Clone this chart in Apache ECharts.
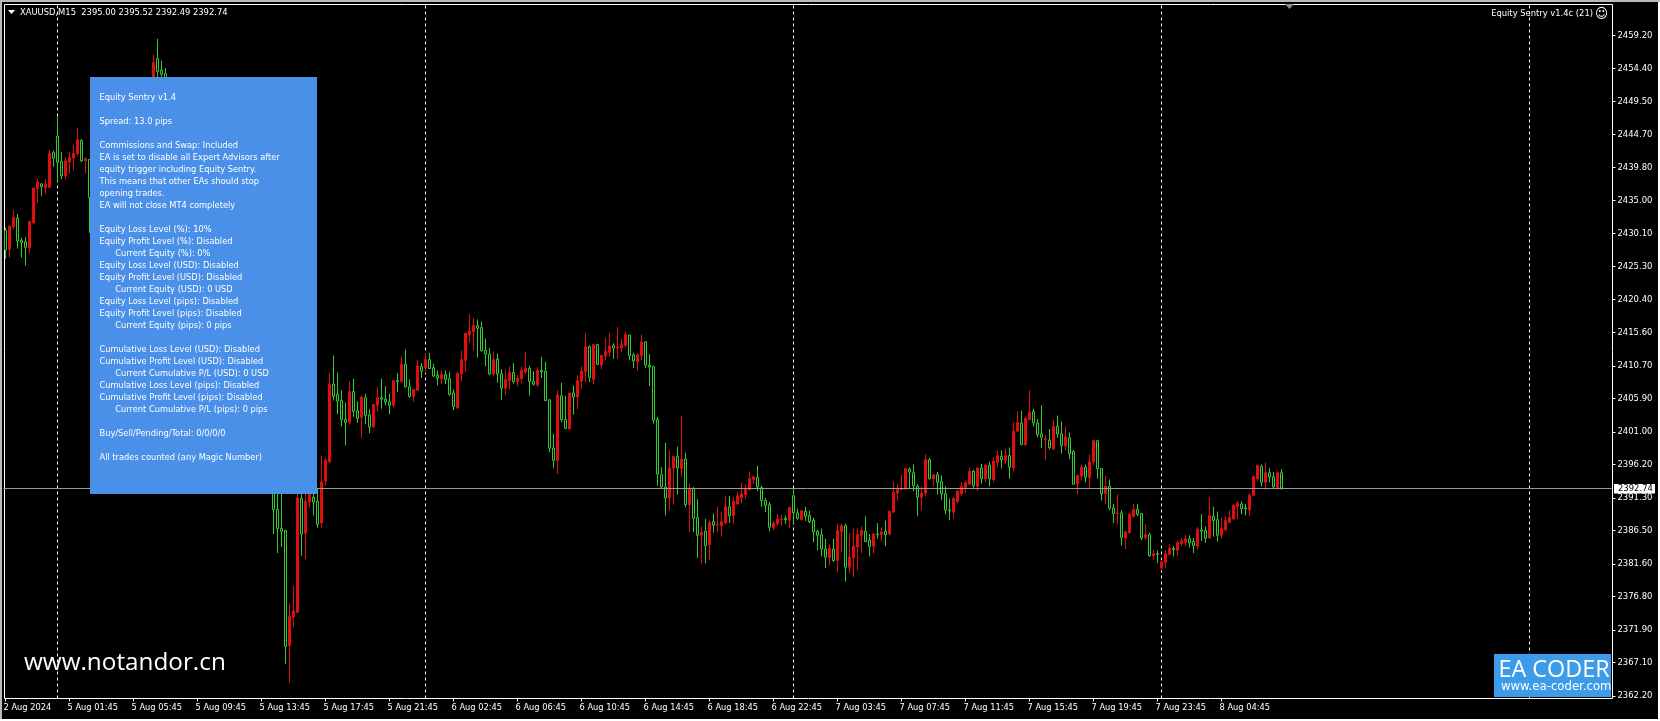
<!DOCTYPE html>
<html><head><meta charset="utf-8">
<script src="https://cdn.jsdelivr.net/npm/echarts@6/dist/echarts.min.js"></script>
<style>html,body{margin:0;padding:0;background:#fff}#c{width:1660px;height:721px}</style></head>
<body><div id="c"></div>
<script>
const opens=[2430.6,2427.8,2431.1,2432.4,2429.1,2428.9,2428.0,2431.7,2436.7,2437.4,
2436.8,2436.9,2442.0,2444.4,2440.7,2438.6,2440.6,2441.2,2441.8,2443.8,
2440.8,2441.0,2435.4,2436.9,2438.1,2437.3,2439.6,2441.0,2440.2,2442.7,
2444.1,2443.4,2445.8,2447.1,2446.2,2448.6,2450.3,2451.2,2455.8,2454.1,
2453.6,2451.0,2449.2,2447.6,2448.3,2445.7,2443.1,2444.0,2441.2,2438.3,
2435.9,2436.8,2433.2,2430.1,2426.7,2427.9,2423.4,2419.8,2416.2,2417.5,
2412.8,2408.9,2404.5,2405.8,2401.6,2397.9,2398.8,2395.2,2389.6,2386.8,
2386.5,2369.6,2373.8,2374.5,2391.2,2386.1,2390.7,2391.4,2390.8,2387.6,
2393.8,2396.6,2408.0,2406.5,2405.6,2402.8,2402.4,2406.9,2404.1,2403.1,
2406.0,2403.5,2401.7,2404.9,2406.0,2405.8,2405.4,2404.9,2408.5,2408.4,
2410.9,2407.6,2406.2,2407.1,2410.6,2410.4,2411.6,2410.4,2409.3,2408.8,
2409.4,2408.8,2406.7,2404.5,2409.5,2411.5,2415.2,2415.7,2416.6,2416.3,
2413.0,2412.4,2409.5,2411.7,2409.5,2407.4,2408.5,2409.7,2408.4,2408.8,
2409.8,2410.3,2408.4,2407.9,2410.0,2409.9,2405.7,2398.6,2396.8,2406.3,
2402.8,2401.4,2406.7,2406.1,2408.4,2409.8,2413.5,2408.7,2413.8,2410.8,
2412.1,2412.7,2413.7,2413.3,2413.3,2413.7,2415.2,2412.3,2411.3,2412.2,
2414.2,2410.8,2410.6,2402.8,2394.7,2392.9,2391.3,2395.7,2397.4,2395.6,
2397.0,2390.3,2392.7,2388.4,2385.8,2386.4,2384.4,2387.8,2387.3,2387.2,
2387.6,2390.0,2388.7,2390.4,2391.3,2391.8,2392.5,2394.0,2394.3,2392.8,
2390.9,2390.3,2386.9,2387.5,2388.1,2388.3,2388.0,2391.6,2389.1,2388.1,
2389.3,2388.7,2388.0,2386.4,2385.9,2383.8,2382.5,2383.8,2382.1,2386.3,
2387.2,2381.1,2382.5,2384.1,2385.8,2386.4,2385.1,2384.2,2386.0,2385.9,
2386.4,2386.0,2389.2,2392.0,2392.5,2392.6,2395.5,2395.0,2393.0,2391.4,
2392.0,2396.9,2394.1,2394.7,2393.7,2391.9,2389.5,2389.2,2390.8,2391.9,
2392.8,2393.3,2395.2,2393.0,2395.7,2394.1,2396.1,2394.0,2396.5,2397.4,
2396.8,2397.5,2395.7,2401.1,2402.3,2399.1,2402.8,2404.0,2402.3,2400.7,
2399.9,2399.8,2398.5,2401.8,2400.7,2398.9,2400.1,2398.1,2393.4,2394.5,
2395.8,2394.3,2396.6,2399.7,2395.6,2391.9,2393.0,2389.8,2389.0,2389.1,
2385.4,2386.2,2388.6,2389.6,2389.0,2385.5,2385.9,2382.8,2383.1,2381.0,
2381.8,2383.0,2383.9,2383.6,2384.6,2384.8,2385.3,2384.9,2384.2,2386.6,
2386.5,2385.4,2388.6,2388.1,2385.8,2386.6,2387.7,2388.2,2390.0,2390.4,
2389.8,2389.5,2391.7,2394.1,2395.9,2393.6,2395.0,2394.4,2392.8,2395.00];
const closes=[2427.7,2431.2,2432.5,2429.0,2428.8,2428.1,2431.9,2436.8,2437.7,2437.0,
2437.3,2441.9,2441.2,2440.6,2438.6,2440.8,2441.3,2441.9,2443.9,2440.8,
2441.1,2435.4,2436.9,2438.1,2437.3,2439.6,2441.0,2440.2,2442.7,2444.1,
2443.4,2445.8,2447.1,2446.2,2448.6,2450.3,2451.2,2455.2,2453.9,2453.5,
2451.0,2449.2,2447.6,2448.3,2445.7,2443.1,2444.0,2441.2,2438.3,2435.9,
2436.8,2433.2,2430.1,2426.7,2427.9,2423.4,2419.8,2416.2,2417.5,2412.8,
2408.9,2404.5,2405.8,2401.6,2397.9,2398.8,2395.2,2389.6,2386.8,2386.4,
2369.5,2373.9,2374.7,2391.3,2386.0,2390.8,2392.0,2390.7,2387.4,2393.6,
2396.8,2408.0,2406.2,2405.5,2402.8,2402.4,2406.9,2404.0,2403.0,2406.1,
2403.4,2401.7,2405.0,2406.0,2405.8,2405.4,2404.9,2408.5,2408.4,2410.9,
2407.6,2406.2,2407.2,2410.7,2409.9,2411.6,2410.3,2409.2,2408.9,2409.4,
2408.7,2406.5,2404.7,2409.6,2411.6,2415.5,2415.8,2416.6,2416.2,2412.9,
2412.4,2409.5,2411.6,2409.5,2407.4,2408.7,2409.7,2408.4,2408.9,2410.0,
2410.3,2408.4,2408.0,2410.0,2409.8,2405.6,2398.6,2396.8,2406.4,2402.8,
2401.5,2406.7,2406.1,2408.5,2409.9,2413.5,2409.0,2413.8,2410.9,2412.2,
2412.8,2413.6,2413.3,2413.5,2413.8,2415.3,2412.2,2411.4,2412.3,2414.2,
2410.8,2410.5,2402.7,2394.8,2392.9,2391.3,2395.7,2397.4,2395.7,2397.0,
2390.3,2392.6,2388.3,2385.8,2386.2,2384.3,2387.7,2387.3,2387.4,2387.8,
2390.0,2388.7,2390.8,2391.6,2391.9,2392.6,2394.1,2394.4,2392.9,2390.9,
2390.2,2387.0,2387.6,2388.2,2388.2,2388.1,2389.9,2389.1,2388.3,2389.4,
2388.6,2387.8,2386.3,2385.8,2383.8,2382.6,2383.9,2382.1,2386.5,2387.2,
2381.1,2382.6,2384.2,2385.9,2386.5,2384.9,2384.2,2386.0,2385.9,2386.3,
2385.9,2389.3,2392.1,2392.5,2392.7,2395.6,2395.1,2393.1,2391.4,2392.0,
2396.9,2394.1,2394.7,2393.6,2391.9,2389.5,2389.4,2391.2,2392.3,2393.0,
2393.5,2395.2,2393.1,2395.7,2394.1,2396.1,2394.1,2396.7,2397.5,2396.9,
2397.5,2395.8,2401.1,2402.4,2399.1,2403.0,2403.9,2402.3,2400.6,2400.2,
2400.0,2398.7,2401.8,2400.7,2399.0,2400.3,2397.8,2393.3,2394.6,2395.8,
2394.3,2396.6,2399.7,2395.6,2391.9,2393.0,2389.8,2389.0,2389.1,2385.5,
2386.3,2388.9,2389.6,2388.9,2385.4,2385.9,2382.8,2383.1,2383.0,2381.9,
2383.1,2383.9,2383.7,2384.7,2385.0,2385.3,2384.7,2384.3,2386.7,2386.4,
2385.4,2388.7,2388.0,2385.8,2386.8,2388.0,2388.4,2390.2,2390.5,2389.7,
2389.7,2391.7,2394.4,2396.1,2393.6,2395.0,2394.4,2392.9,2395.0,2392.74];
const lows=[2426.4,2426.6,2430.8,2427.9,2426.6,2425.4,2427.2,2431.5,2434.6,2435.6,
2435.9,2436.8,2439.9,2437.7,2438.1,2438.1,2438.9,2439.4,2441.6,2440.6,
2438.9,2430.2,2434.8,2436.2,2436.9,2437.0,2439.1,2439.7,2439.9,2442.2,
2442.8,2443.0,2445.3,2445.8,2445.9,2448.1,2449.9,2450.6,2452.6,2452.5,
2450.5,2448.7,2447.1,2446.9,2445.2,2442.6,2442.4,2440.6,2437.7,2435.1,
2435.2,2432.6,2429.3,2426.0,2425.8,2422.7,2419.0,2415.3,2415.4,2412.1,
2408.0,2403.7,2403.9,2400.8,2397.0,2396.9,2394.6,2386.0,2383.2,2384.1,
2366.9,2364.2,2372.3,2374.5,2382.8,2382.3,2389.9,2388.7,2386.9,2386.95,
2393.1,2396.4,2405.6,2403.6,2401.8,2399.0,2402.1,2403.2,2402.3,2400.1,
2402.1,2400.8,2401.6,2404.0,2404.4,2404.9,2403.6,2404.6,2406.8,2408.2,
2407.5,2406.0,2405.4,2407.1,2408.9,2409.6,2410.2,2409.0,2407.8,2408.0,
2408.0,2406.3,2404.2,2404.4,2408.4,2409.8,2414.1,2413.0,2411.9,2412.8,
2410.6,2409.3,2409.2,2408.2,2405.7,2406.4,2407.2,2408.1,2407.7,2408.2,
2409.5,2406.3,2407.8,2407.6,2408.9,2405.5,2398.0,2395.7,2394.8,2402.4,
2401.4,2401.4,2403.5,2404.3,2407.3,2408.3,2408.3,2408.0,2410.8,2410.2,
2411.5,2412.0,2411.7,2411.7,2412.7,2413.4,2411.5,2410.4,2410.0,2411.5,
2410.4,2407.7,2402.2,2393.1,2392.6,2388.7,2389.5,2390.3,2391.8,2394.4,
2389.9,2386.3,2386.3,2382.5,2381.7,2381.7,2382.2,2386.2,2386.3,2385.6,
2387.5,2387.6,2387.5,2390.3,2390.5,2391.2,2392.4,2393.4,2392.3,2390.0,
2389.2,2386.4,2386.5,2387.2,2387.2,2387.5,2386.9,2387.5,2388.1,2388.0,
2387.9,2387.6,2384.8,2383.6,2382.7,2381.0,2381.4,2381.9,2380.4,2383.3,
2379.0,2380.2,2379.7,2380.7,2383.2,2384.8,2382.7,2383.1,2385.3,2385.0,
2384.2,2385.8,2389.2,2390.9,2392.5,2392.5,2392.6,2392.3,2388.6,2389.5,
2391.6,2394.0,2393.0,2391.8,2391.0,2388.9,2388.0,2388.3,2390.5,2391.6,
2392.0,2393.3,2392.6,2392.3,2393.4,2393.6,2393.0,2393.6,2395.8,2395.6,
2396.3,2394.1,2395.2,2401.0,2399.1,2398.9,2402.7,2401.8,2400.2,2398.6,
2396.9,2398.4,2398.3,2400.1,2397.8,2398.3,2397.0,2393.2,2391.8,2393.8,
2393.6,2392.7,2396.1,2394.1,2390.9,2390.4,2389.5,2387.6,2387.4,2384.3,
2383.8,2386.0,2388.4,2388.6,2385.1,2385.1,2382.7,2382.2,2381.7,2380.6,
2381.0,2382.9,2382.7,2382.7,2384.2,2384.2,2384.0,2383.2,2383.8,2385.0,
2384.7,2385.3,2385.6,2384.9,2385.3,2386.4,2387.6,2388.1,2388.2,2388.9,
2388.7,2388.6,2391.5,2393.8,2393.0,2392.5,2393.6,2392.6,2392.6,2392.49];
const highs=[2431.0,2431.3,2433.6,2433.0,2429.5,2429.6,2431.9,2436.8,2438.2,2437.5,
2438.1,2442.3,2442.3,2447.3,2442.1,2441.3,2442.1,2443.1,2445.6,2444.0,
2441.3,2441.0,2437.3,2438.9,2438.8,2440.2,2441.7,2441.5,2443.3,2444.8,
2444.6,2446.3,2447.9,2447.6,2449.2,2450.8,2452.0,2456.4,2458.7,2455.5,
2454.4,2451.5,2450.0,2449.0,2448.7,2446.2,2444.6,2444.5,2441.8,2438.9,
2437.5,2437.3,2433.8,2430.8,2428.6,2428.4,2424.1,2420.5,2418.3,2418.0,
2413.6,2409.6,2406.5,2406.4,2402.2,2399.6,2399.4,2395.8,2394.2,2394.5,
2386.6,2375.8,2378.4,2394.0,2394.0,2393.0,2393.5,2393.5,2392.8,2397.5,
2397.2,2409.6,2412.2,2409.7,2407.1,2405.3,2408.4,2408.8,2405.5,2406.3,
2406.6,2404.3,2405.1,2407.6,2408.8,2407.7,2406.6,2408.6,2409.6,2412.0,
2413.1,2408.7,2407.3,2411.6,2411.1,2412.5,2412.6,2411.0,2410.0,2410.0,
2410.0,2409.8,2407.2,2409.8,2412.9,2415.5,2418.3,2417.7,2417.5,2417.2,
2414.7,2413.3,2412.8,2412.5,2410.2,2410.0,2410.6,2411.1,2409.3,2410.6,
2412.7,2410.7,2409.9,2410.5,2412.0,2411.3,2405.8,2400.7,2407.1,2408.2,
2406.3,2406.7,2407.8,2409.3,2410.6,2415.5,2413.7,2413.8,2413.9,2412.3,
2414.8,2415.5,2414.0,2416.4,2414.7,2415.7,2415.2,2412.6,2412.5,2415.3,
2414.3,2412.4,2410.7,2403.2,2395.8,2399.4,2398.3,2397.4,2398.8,2403.3,
2397.9,2393.4,2392.9,2391.1,2387.1,2388.2,2388.0,2389.0,2390.0,2389.2,
2391.5,2391.6,2391.4,2392.1,2393.5,2393.3,2395.2,2394.6,2396.0,2393.1,
2391.3,2390.7,2387.9,2388.9,2388.8,2388.7,2390.0,2392.6,2389.7,2389.5,
2390.0,2389.4,2388.4,2386.6,2386.8,2385.3,2384.5,2385.3,2387.4,2387.5,
2387.5,2386.1,2386.8,2386.8,2387.1,2388.6,2386.0,2386.1,2387.6,2387.0,
2388.0,2389.5,2393.7,2393.3,2394.7,2395.7,2395.8,2396.2,2393.3,2393.0,
2397.7,2397.2,2394.8,2395.1,2394.6,2393.0,2391.2,2391.4,2392.5,2393.6,
2393.8,2395.8,2395.4,2395.8,2396.3,2396.3,2396.6,2397.3,2398.2,2398.3,
2398.5,2398.7,2402.4,2404.0,2404.1,2403.2,2407.1,2404.4,2402.9,2404.9,
2400.5,2401.4,2402.7,2403.4,2402.5,2401.8,2400.9,2398.3,2394.7,2396.2,
2396.2,2397.7,2399.7,2399.7,2395.6,2394.5,2394.0,2390.4,2391.8,2389.5,
2386.5,2389.0,2390.4,2390.4,2389.1,2387.4,2386.2,2383.6,2383.6,2382.2,
2383.6,2384.5,2384.2,2385.0,2385.4,2385.9,2385.8,2385.4,2387.0,2388.9,
2387.1,2391.4,2390.0,2389.3,2388.5,2388.6,2389.5,2390.4,2390.9,2390.8,
2390.4,2392.0,2394.6,2396.2,2396.2,2396.5,2395.7,2395.1,2395.2,2395.52];
const timeTickLabels=['2 Aug 2024','5 Aug 01:45','5 Aug 05:45','5 Aug 09:45','5 Aug 13:45','5 Aug 17:45','5 Aug 21:45','6 Aug 02:45','6 Aug 06:45','6 Aug 10:45','6 Aug 14:45','6 Aug 18:45','6 Aug 22:45','7 Aug 03:45','7 Aug 07:45','7 Aug 11:45','7 Aug 15:45','7 Aug 19:45','7 Aug 23:45','8 Aug 04:45'];
const priceTicks=[2459.2,2454.4,2449.5,2444.7,2439.8,2435.0,2430.1,2425.3,2420.4,2415.6,2410.7,2405.9,2401.0,2396.2,2391.3,2386.5,2381.6,2376.8,2371.9,2367.1,2362.2];
const daySeparators=[13,105,197,289,381];
const lastPrice=2392.74;
const IND='\u00a0\u00a0\u00a0\u00a0\u00a0\u00a0';
const panelLines=['Equity Sentry v1.4','','Spread: 13.0 pips','','Commissions and Swap: Included','EA is set to disable all Expert Advisors after','equity trigger including Equity Sentry.','This means that other EAs should stop','opening trades.','EA will not close MT4 completely','','Equity Loss Level (%): 10%','Equity Profit Level (%): Disabled',IND+'Current Equity (%): 0%','Equity Loss Level (USD): Disabled','Equity Profit Level (USD): Disabled',IND+'Current Equity (USD): 0 USD','Equity Loss Level (pips): Disabled','Equity Profit Level (pips): Disabled',IND+'Current Equity (pips): 0 pips','','Cumulative Loss Level (USD): Disabled','Cumulative Profit Level (USD): Disabled',IND+'Current Cumulative P/L (USD): 0 USD','Cumulative Loss Level (pips): Disabled','Cumulative Profit Level (pips): Disabled',IND+'Current Cumulative P/L (pips): 0 pips','','Buy/Sell/Pending/Total: 0/0/0/0','','All trades counted (any Magic Number)'];

const SLOTS=402, TICK_EVERY=16;
const categories=Array.from({length:SLOTS},(_,i)=>i%TICK_EVERY===0?(timeTickLabels[i/TICK_EVERY]||''):'');
const candles=opens.map((o,i)=>[o,closes[i],lows[i],highs[i]]);
const FONT='"DejaVu Sans Condensed","DejaVu Sans"';
const GREEN='#32cd32', RED='#e00f0f', WHITE='#ffffff';
const txt=(x,y,text,size,extra)=>({type:'text',z:50,x,y,silent:true,style:Object.assign({text,fill:WHITE,font:size+'px '+FONT,verticalAlign:'middle'},extra||{})});

const chart=echarts.init(document.getElementById('c'),null,{renderer:'canvas'});
chart.setOption({
  animation:false,
  backgroundColor:'#ffffff',
  grid:{left:3.5,top:4.5,width:1608,height:694,containLabel:false,show:false},
  xAxis:{type:'category',data:categories,boundaryGap:true,
    axisLine:{show:false},
    axisTick:{show:true,alignWithLabel:true,length:3,lineStyle:{color:WHITE},interval:(i)=>i%TICK_EVERY===0&&i<timeTickLabels.length*TICK_EVERY},
    axisLabel:{color:WHITE,fontFamily:FONT,fontSize:9.2,align:'left',margin:5,hideOverlap:false,padding:[0,0,0,-2],interval:(i)=>i%TICK_EVERY===0&&i<timeTickLabels.length*TICK_EVERY},
    splitLine:{show:false}},
  yAxis:{type:'value',position:'right',offset:1,min:2361.84,max:2463.75,scale:true,
    axisLine:{show:false},
    axisTick:{show:true,length:3,lineStyle:{color:WHITE},customValues:priceTicks},
    axisLabel:{color:WHITE,fontFamily:FONT,fontSize:9.4,margin:5,padding:[2,0,0,0],customValues:priceTicks,formatter:(v)=>v.toFixed(2),showMinLabel:true,showMaxLabel:true},
    splitLine:{show:false}},
  series:[
    {type:'line',data:[],silent:true,z:1,
     markLine:{silent:true,z:1,symbol:'none',animation:false,label:{show:false},
       lineStyle:{color:WHITE,type:[3,3],width:1},
       data:daySeparators.map(i=>({xAxis:i}))}},
    {type:'candlestick',data:candles,barWidth:2,z:2,silent:true,
     itemStyle:{color:RED,color0:'#000000',borderColor:RED,borderColor0:GREEN,borderWidth:1},
     markLine:{silent:true,z:3,symbol:'none',animation:false,label:{show:false},
       lineStyle:{color:'#9c9c9c',type:'solid',width:1},
       data:[{yAxis:lastPrice}]}}
  ],
  graphic:[
    {type:'rect',z:-10,silent:true,shape:{x:2,y:2,width:1656,height:717},style:{fill:'#000'}},
    {type:'rect',z:-9,silent:true,shape:{x:0,y:0,width:1660,height:2},style:{fill:'#b9b9b9'}},
    {type:'rect',z:-9,silent:true,shape:{x:0,y:0,width:2,height:719},style:{fill:'#b9b9b9'}},
    {type:'rect',z:-8,silent:true,shape:{x:4.5,y:4.5,width:1608,height:694},style:{fill:'none',stroke:WHITE,lineWidth:1}},
    {type:'polygon',z:20,silent:true,shape:{points:[[8,10],[15,10],[11.5,14]]},style:{fill:WHITE}},
    {type:'polygon',z:20,silent:true,shape:{points:[[1285,4],[1294,4],[1289.5,9]]},style:{fill:'#8a8a8a'}},
    {type:'rect',z:20,silent:true,shape:{x:90,y:77,width:227,height:417},style:{fill:'#4a90e8'}},
    txt(99.5,91.5,panelLines.join('\n'),9.2,{lineHeight:12,verticalAlign:'top'}),
    txt(20,12.5,'XAUUSD,M15  2395.00 2395.52 2392.49 2392.74',9.3),
    txt(1593,14,'Equity Sentry v1.4c (21)',9.3,{align:'right'}),
    txt(1601.5,14,'\u263A',14,{align:'center'}),
    {type:'rect',z:30,silent:true,shape:{x:1614,y:484,width:41,height:9.5},style:{fill:WHITE}},
    txt(1618,489,'2392.74',9.4,{fill:'#000'}),
    txt(24,663,'www.notandor.cn',24,{font:'24.3px "Open Sans"'}),
    {type:'rect',z:20,silent:true,shape:{x:1494,y:654,width:117,height:43},style:{fill:'#3d9be9'}},
    txt(1498.5,670,'EA CODER',23.4,{font:'23.4px "Open Sans"'}),
    txt(1501,687,'www.ea-coder.com',11.7,{font:'11.7px "DejaVu Sans"'})
  ]
});
</script></body></html>
